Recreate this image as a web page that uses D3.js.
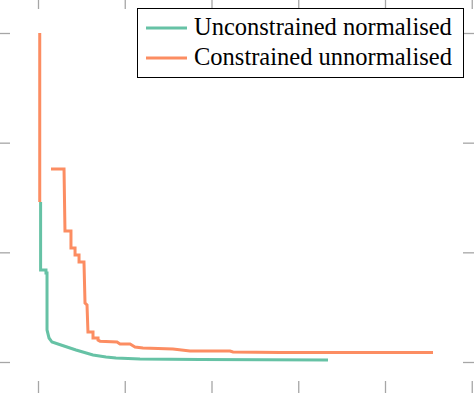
<!DOCTYPE html>
<html lang="en">
<head>
<meta charset="UTF-8">
<title>Unconstrained vs constrained</title>
<script src="https://d3js.org/d3.v7.min.js"></script>
<style>
    body { margin: 0; background: #fff; }
    svg { display: block; }
    .tick line { stroke: #a6a6a6; stroke-width: 1.3; }
    .legend-text { font-family: "Liberation Serif", "Times New Roman", serif; font-size: 24.5px; fill: #000; }
</style>
</head>
<body>
<svg id="chart" width="474" height="393"></svg>
<script>
    // values (x in iterations, y in cost units)
    const xTicks = [0, 1000, 2000, 3000, 4000, 5000];
    const yTicks = [0, 1, 2, 3];
    const seriesNames = ["Unconstrained normalised", "Constrained unnormalised"];
    const seriesColors = ["#66c2a5", "#fc8d62"];

    const unconstrained = [
        [30, 1.459], [30, 0.839], [92, 0.839], [92, 0.812], [104, 0.812], [104, 0.292],
        [127, 0.219], [161, 0.182], [265, 0.155], [438, 0.109], [634, 0.064], [784, 0.046],
        [899, 0.036], [1176, 0.027], [1867, 0.023], [3343, 0.018]
    ];

    // null marks the break between the first drop and the rest of the run
    const constrained = [
        [20, 3.0], [20, 1.46], null,
        [150, 1.76], [300, 1.76], [311, 1.195], [380, 1.195], [380, 1.04], [427, 1.04],
        [427, 0.976], [473, 0.976], [473, 0.912], [530, 0.912], [542, 0.538], [565, 0.52],
        [576, 0.274], [634, 0.274], [634, 0.219], [692, 0.219], [692, 0.2], [715, 0.19],
        [911, 0.182], [945, 0.164], [1061, 0.164], [1118, 0.137], [1210, 0.128],
        [1556, 0.119], [1752, 0.1], [2213, 0.1], [2248, 0.091], [2790, 0.087], [4553, 0.087]
    ];

    const svg = d3.select("#chart");

    const x = d3.scaleLinear().domain([0, 5000]).range([38, 471.75]);
    const y = d3.scaleLinear().domain([0, 3]).range([362, 33]);

    const noLabel = () => "";

    // tick marks only, the frame and labels sit just outside the view
    const axes = [
        { axis: d3.axisRight(y).tickValues(yTicks).tickSize(11), t: "translate(-1,0)" },
        { axis: d3.axisLeft(y).tickValues(yTicks).tickSize(12), t: "translate(475,0)" },
        { axis: d3.axisBottom(x).tickValues(xTicks).tickSize(11), t: "translate(0,-2)" },
        { axis: d3.axisTop(x).tickValues(xTicks).tickSize(12), t: "translate(0,393)" }
    ];
    axes.forEach(a => {
        const g = svg.append("g").attr("transform", a.t).call(a.axis.tickFormat(noLabel));
        g.select(".domain").remove();
    });

    const line = d3.line()
        .defined(d => d !== null)
        .x(d => x(d[0]))
        .y(d => y(d[1]));

    [unconstrained, constrained].forEach((data, i) => {
        svg.append("path")
            .datum(data)
            .attr("fill", "none")
            .attr("stroke", seriesColors[i])
            .attr("stroke-width", 3)
            .attr("d", line);
    });

    // legend
    const legend = svg.append("g");
    legend.append("rect")
        .attr("x", 137.5).attr("y", 8.5)
        .attr("width", 326).attr("height", 69)
        .attr("fill", "#fff")
        .attr("stroke", "#000")
        .attr("stroke-width", 1);

    seriesNames.forEach((name, i) => {
        const cy = 28 + i * 30;
        legend.append("line")
            .attr("x1", 146).attr("x2", 187)
            .attr("y1", cy).attr("y2", cy)
            .attr("stroke", seriesColors[i])
            .attr("stroke-width", 3);
        legend.append("text")
            .attr("class", "legend-text")
            .attr("x", 194)
            .attr("y", cy + 7)
            .text(name);
    });
</script>
</body>
</html>
